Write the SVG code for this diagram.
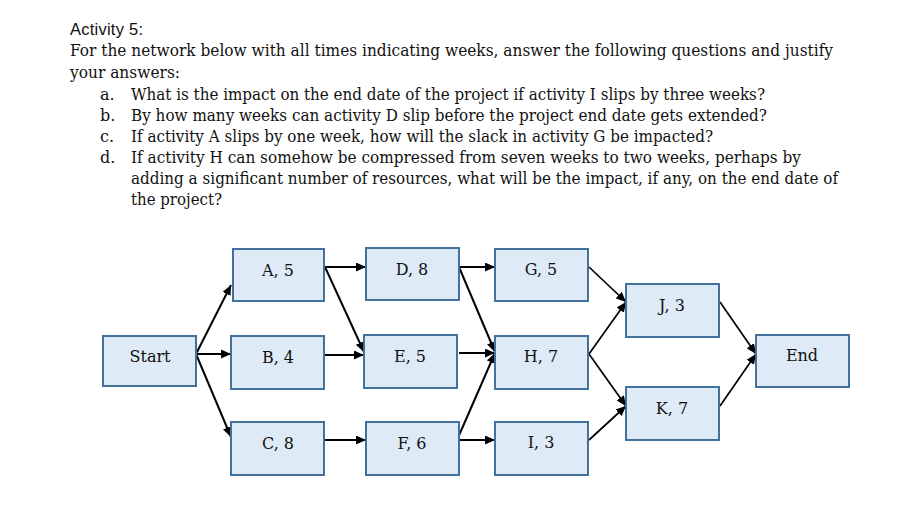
<svg xmlns="http://www.w3.org/2000/svg" width="904" height="510" viewBox="0 0 904 510">
<defs>
<marker id="ah" markerUnits="userSpaceOnUse" markerWidth="11" markerHeight="9" refX="10" refY="4.5" orient="auto">
<path d="M0,0 L10,4.5 L0,9 z" fill="#000"/>
</marker>
<style>
.q{font-family:"DejaVu Serif","Liberation Serif",serif;font-size:16px;fill:#111}
.h{font-family:"Liberation Sans",Arial,sans-serif;font-size:16.5px;fill:#111}
.box rect{fill:#deeaf6;stroke:#41719c;stroke-width:2}
.box text{font-family:"DejaVu Serif","Liberation Serif",serif;font-size:16px;fill:#111;text-anchor:middle}
.c line{stroke:#000;stroke-width:2;marker-end:url(#ah)}
</style>
</defs>
<rect width="904" height="510" fill="#fff"/>
<g id="question">
<text class="h" x="70" y="35" textLength="73">Activity 5:</text>
<text class="q" x="70" y="56" textLength="763" lengthAdjust="spacingAndGlyphs">For the network below with all times indicating weeks, answer the following questions and justify</text>
<text class="q" x="70" y="78" textLength="110" lengthAdjust="spacingAndGlyphs">your answers:</text>
<text class="q" x="100" y="100">a.</text>
<text class="q" x="131" y="100" textLength="634" lengthAdjust="spacingAndGlyphs">What is the impact on the end date of the project if activity I slips by three weeks?</text>
<text class="q" x="100" y="121">b.</text>
<text class="q" x="131" y="121" textLength="636" lengthAdjust="spacingAndGlyphs">By how many weeks can activity D slip before the project end date gets extended?</text>
<text class="q" x="100" y="142">c.</text>
<text class="q" x="131" y="142" textLength="582" lengthAdjust="spacingAndGlyphs">If activity A slips by one week, how will the slack in activity G be impacted?</text>
<text class="q" x="100" y="163">d.</text>
<text class="q" x="131" y="163" textLength="670" lengthAdjust="spacingAndGlyphs">If activity H can somehow be compressed from seven weeks to two weeks, perhaps by</text>
<text class="q" x="131" y="184" textLength="707" lengthAdjust="spacingAndGlyphs">adding a significant number of resources, what will be the impact, if any, on the end date of</text>
<text class="q" x="131" y="205" textLength="91" lengthAdjust="spacingAndGlyphs">the project?</text>
</g>
<g id="connectors" class="c">
<line x1="196" y1="354" x2="231" y2="285"/>
<line x1="196" y1="354" x2="231" y2="354"/>
<line x1="196" y1="354" x2="231" y2="437"/>
<line x1="325" y1="267" x2="366" y2="267"/>
<line x1="325" y1="267" x2="364" y2="352"/>
<line x1="325" y1="355" x2="364" y2="355"/>
<line x1="325" y1="440" x2="366" y2="440"/>
<line x1="459" y1="267" x2="495" y2="267"/>
<line x1="459" y1="267" x2="495" y2="352"/>
<line x1="459" y1="353" x2="495" y2="353"/>
<line x1="457" y1="440" x2="495" y2="353"/>
<line x1="457" y1="440" x2="495" y2="440"/>
<line x1="589" y1="267" x2="626" y2="302" style="stroke-width:1.7"/>
<line x1="589" y1="354" x2="626" y2="302" style="stroke-width:1.7"/>
<line x1="589" y1="354" x2="626" y2="406" style="stroke-width:1.7"/>
<line x1="589" y1="440" x2="626" y2="406" style="stroke-width:1.7"/>
<line x1="720" y1="302" x2="756" y2="354" style="stroke-width:1.7"/>
<line x1="720" y1="406" x2="756" y2="354" style="stroke-width:1.7"/>
</g>
<g id="start" class="box"><rect x="103" y="336" width="93" height="50"/><text x="150" y="362">Start</text></g>
<g id="A" class="box"><rect x="233" y="249" width="91" height="52"/><text x="278" y="276">A, 5</text></g>
<g id="B" class="box"><rect x="231" y="336" width="93" height="53"/><text x="278" y="363">B, 4</text></g>
<g id="C" class="box"><rect x="231" y="422" width="93" height="53"/><text x="278" y="449">C, 8</text></g>
<g id="D" class="box"><rect x="366" y="248" width="93" height="52"/><text x="412" y="275">D, 8</text></g>
<g id="E" class="box"><rect x="364" y="335" width="93" height="53"/><text x="410" y="362">E, 5</text></g>
<g id="F" class="box"><rect x="366" y="422" width="93" height="53"/><text x="412" y="449">F, 6</text></g>
<g id="G" class="box"><rect x="495" y="249" width="93" height="52"/><text x="541" y="275">G, 5</text></g>
<g id="H" class="box"><rect x="495" y="336" width="93" height="53"/><text x="541" y="362">H, 7</text></g>
<g id="I" class="box"><rect x="495" y="422" width="93" height="53"/><text x="541" y="448">I, 3</text></g>
<g id="J" class="box"><rect x="626" y="284" width="93" height="53"/><text x="672" y="311">J, 3</text></g>
<g id="K" class="box"><rect x="626" y="387" width="93" height="53"/><text x="672" y="414">K, 7</text></g>
<g id="end" class="box"><rect x="756" y="335" width="93" height="52"/><text x="802" y="361">End</text></g>
</svg>
